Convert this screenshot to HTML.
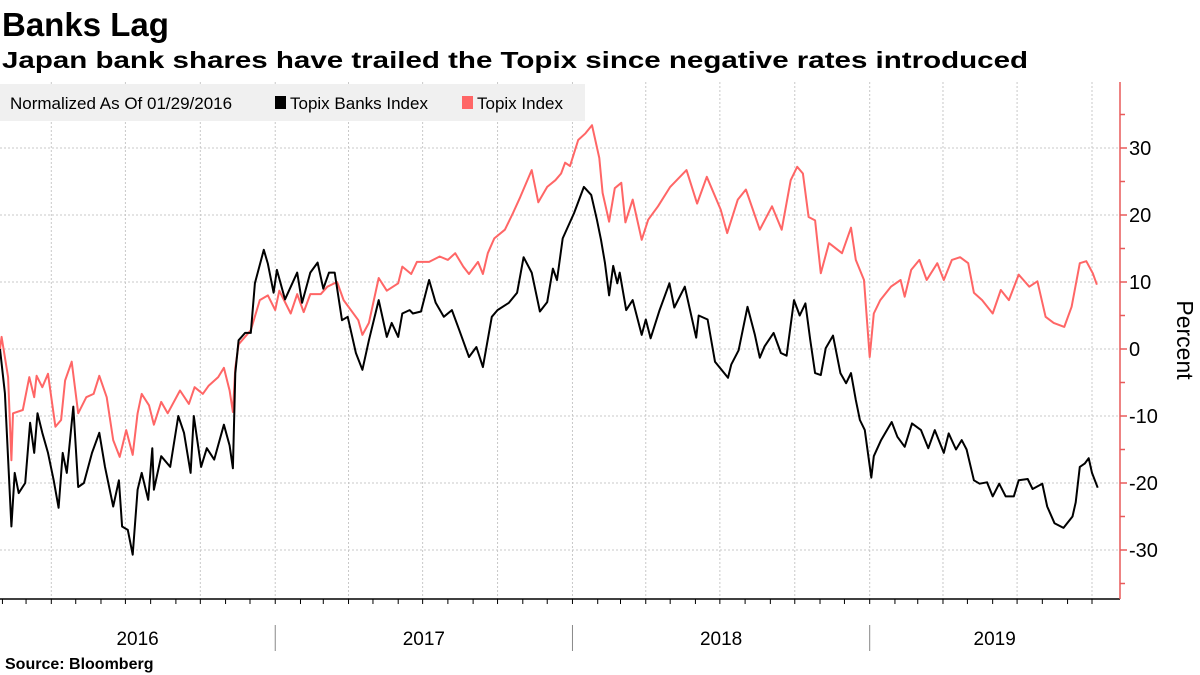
<!DOCTYPE html>
<html><head><meta charset="utf-8"><style>
html,body{margin:0;padding:0;background:#fff;}
svg{display:block;font-family:"Liberation Sans",sans-serif;}
</style></head><body>
<svg id="chart" width="1200" height="675" viewBox="0 0 1200 675">
<text x="2" y="36" font-size="33" font-weight="bold" fill="#000">Banks Lag</text>
<text x="2" y="68" font-size="23" font-weight="bold" fill="#000" textLength="1026" lengthAdjust="spacingAndGlyphs">Japan bank shares have trailed the Topix since negative rates introduced</text>
<g id="grid"></g>
<g>
<rect x="0" y="84" width="585" height="37" fill="#f0f0f0"/>
<text x="10" y="109" font-size="17" fill="#000">Normalized As Of 01/29/2016</text>
<rect x="275" y="96" width="11" height="13" fill="#000"/>
<text x="290" y="109" font-size="17" fill="#000">Topix Banks Index</text>
<rect x="462" y="96" width="11" height="13" fill="#ff6666"/>
<text x="477" y="109" font-size="17" fill="#000">Topix Index</text>
</g>
<g id="series"></g>
<g id="axes"></g>
<text transform="translate(1177,340) rotate(90)" text-anchor="middle" font-size="23" fill="#000">Percent</text>
<text x="5" y="669" font-size="16" font-weight="bold" fill="#000">Source: Bloomberg</text>
</svg>
<script>
// days since 2016-01-29
const banksDays=[0,6,14,18,23,31,37,42,46,52,59,66,72,77,82,90,96,103,113,122,129,139,146,150,157,163,169,174,182,187,189,198,209,219,226,234,238,247,254,263,275,282,286,289,293,301,308,313,324,329,336,340,350,365,371,381,390,397,404,411,420,427,437,445,453,465,475,481,489,494,503,507,517,527,535,545,555,564,576,585,593,604,611,625,635,643,653,663,672,679,684,691,705,717,726,733,738,743,748,753,758,761,769,777,788,793,799,810,822,828,841,855,858,869,878,894,898,907,918,927,933,939,950,959,966,975,982,989,995,1001,1008,1014,1023,1032,1039,1045,1051,1056,1062,1070,1073,1082,1095,1102,1111,1120,1131,1140,1148,1159,1165,1174,1181,1187,1196,1203,1212,1219,1227,1235,1245,1251,1262,1268,1280,1286,1295,1306,1317,1321,1326,1332,1337,1341,1348];
const banksValues=[0,-6.6,-26.5,-18.5,-21.5,-20,-11,-15.5,-9.6,-12.5,-15.5,-19.6,-23.7,-15.5,-18.5,-8.6,-20.6,-20,-15.5,-12.5,-17.6,-23.5,-19.6,-26.5,-27,-30.7,-21,-18.5,-22.5,-14.8,-21,-16,-17.6,-10,-12.5,-18.5,-10,-17.6,-14.8,-16.5,-11.3,-14.4,-17.8,-3.6,1.3,2.4,2.4,9.8,14.8,12.7,8.4,11.8,7.4,11.4,6.9,11.4,12.9,9,11.4,11.4,4.3,4.8,-0.6,-3.1,1.3,7.3,1.8,3.9,1.8,5.3,5.8,5.3,5.6,10.3,6.9,4.8,5.8,2.8,-1.2,0.3,-2.7,4.8,5.8,6.9,8.4,13.7,11.4,5.6,7,12,10.3,16.5,20.3,24.2,23,19.3,16.3,12.8,8,12.4,9.8,11.4,5.8,7.3,2.1,4.4,1.6,5.8,9.8,6.2,9.3,1.7,5,4.4,-1.9,-4.3,-2.3,-0.2,6.3,2.1,-1.3,0.4,2.4,-0.6,-1,7.3,5,6.8,1.4,-3.6,-3.9,0.1,2,-3.6,-5.1,-3.6,-7.6,-10.6,-12.1,-19.2,-16,-13.6,-10.9,-13.1,-14.6,-11.1,-12.1,-14.8,-12.1,-15.5,-12.6,-15,-13.6,-15,-19.6,-20.1,-19.9,-22,-20.1,-22,-22,-19.6,-19.4,-20.9,-20.1,-23.5,-26,-26.7,-25,-22.9,-17.6,-17.1,-16.3,-18.5,-20.7];
const topixDays=[0,2,10,14,16,28,36,42,45,52,59,68,75,80,88,96,106,115,122,131,139,147,155,163,169,174,183,189,198,206,221,232,239,249,256,268,275,282,286,289,293,308,319,329,338,343,357,365,373,381,394,402,414,422,440,445,453,465,475,489,494,505,512,527,540,550,559,569,576,587,593,599,607,620,630,639,653,661,672,682,689,694,700,710,719,727,736,740,748,755,763,768,777,788,796,808,823,843,856,868,885,893,906,916,933,948,960,971,979,986,993,1001,1008,1018,1034,1045,1051,1061,1068,1073,1081,1094,1106,1111,1119,1129,1138,1151,1159,1169,1179,1189,1196,1206,1219,1229,1239,1251,1264,1274,1284,1294,1307,1316,1326,1334,1342,1347];
const topixValues=[0,1.8,-4.2,-16.6,-9.6,-9.1,-4.2,-7.2,-4,-5.7,-3.7,-11.6,-10.6,-4.7,-1.9,-9.6,-7.2,-6.7,-4,-7.2,-13.6,-16.1,-12.1,-15.8,-9.6,-6.7,-8.4,-11.3,-7.9,-9.6,-6.2,-8.2,-5.7,-6.7,-5.5,-4.2,-2.8,-6.2,-9.4,-2.8,0.7,2.8,7.3,8,5.8,8.7,5.3,8.2,5.5,8.2,8.2,9.3,10,7.3,4.3,2.1,3.9,10.6,8.7,9.8,12.3,11.2,13,13,13.8,13.3,14.3,12.3,11.2,13,11.2,14.3,16.5,17.8,20.3,22.7,26.7,21.9,24.2,25.2,26.2,27.8,27.3,31.2,32.2,33.4,28.5,23.3,19,24,24.8,18.9,22.3,16.3,19.3,21.3,24.2,26.7,21.7,25.7,20.8,17.3,22.3,23.8,17.8,21.3,17.8,25.2,27.2,26.2,19.7,19.2,11.3,15.8,14.3,18.1,13.3,10.3,-1.2,5.3,7.3,9.3,10.3,7.8,11.8,13.3,10.3,12.8,10.3,13.3,13.7,12.8,8.4,7.3,5.3,8.8,7.3,11.1,9.3,10.1,4.8,3.9,3.3,6.3,12.8,13.1,11.3,9.6];
const yTicks=[30,20,10,0,-10,-20,-30];
const yTickLabels=["30","20","10","0","-10","-20","-30"];
const years=["2016","2017","2018","2019"];

const NS="http://www.w3.org/2000/svg";
const START=Date.UTC(2016,0,29);
const dayOf=(y,m,d)=>(Date.UTC(y,m,d)-START)/86400000;
const plotL=0,plotR=1120,plotT=82,plotB=599;
const xS=d=>plotL+d*(1092/1341);
const yS=v=>349-6.7*v;
function mk(tag,attrs,parent){const e=document.createElementNS(NS,tag);for(const k in attrs)e.setAttribute(k,attrs[k]);parent.appendChild(e);return e;}
const grid=document.getElementById('grid'),axes=document.getElementById('axes'),series=document.getElementById('series');
// horizontal grid
yTicks.forEach(v=>{const l=mk('line',{x1:plotL,x2:plotR,y1:yS(v),y2:yS(v),stroke:'#c8c8c8','stroke-dasharray':'2,2','stroke-width':1},grid);

});
// vertical quarterly grid + monthly ticks
for(let y=2016;y<=2019;y++){for(let m=0;m<12;m++){const d=dayOf(y,m,1);if(d<0||d>1360)continue;const x=xS(d);
 if(m%3===0&&d>0){const g=mk('line',{x1:x,x2:x,y1:plotT,y2:plotB,stroke:'#c8c8c8','stroke-dasharray':'2,2','stroke-width':1},grid);
 
 }
 const t=mk('line',{x1:x,x2:x,y1:plotB,y2:plotB+5,stroke:'#000','stroke-width':1},axes);
 
 }}
// series
function line(days,vals,color,w,name){const p=days.map((d,i)=>(i?'L':'M')+xS(d).toFixed(1)+','+yS(vals[i]).toFixed(1)).join('');
 const e=mk('path',{d:p,fill:'none',stroke:color,'stroke-width':w,'stroke-linejoin':'round'},series);
 
 }
line(topixDays,topixValues,'#ff6666',2,'topix-index-line');
line(banksDays,banksValues,'#000',2,'topix-banks-line');
// x axis
const xa=mk('line',{x1:plotL,x2:plotR,y1:plotB,y2:plotB,stroke:'#000','stroke-width':1.5},axes);


// right y axis
const ya=mk('line',{x1:plotR,x2:plotR,y1:plotT,y2:plotB,stroke:'#e85a5a','stroke-width':1.5},axes);


for(let v=-35;v<=35;v+=5){const y=yS(v);if(y<plotT||y>plotB)continue;
 const t=mk('line',{x1:plotR,x2:plotR+(v%10===0?7:5),y1:y,y2:y,stroke:'#e85a5a','stroke-width':1.5},axes);
 
 }
yTicks.forEach((v,i)=>{const t=mk('text',{x:plotR+9,y:yS(v)+7,'font-size':20,fill:'#000'},axes);t.textContent=yTickLabels[i];
 
 });
// year labels and separators
years.forEach((yr,i)=>{const y=+yr;const a=Math.max(0,dayOf(y,0,1)),b=Math.min(dayOf(y+1,0,1),1375);
 const t=mk('text',{x:(xS(a)+xS(b))/2,y:645,'font-size':19,'text-anchor':'middle',fill:'#000'},axes);t.textContent=yr;
 
 
 if(i>0){const s=mk('line',{x1:xS(a),x2:xS(a),y1:625,y2:651,stroke:'#888','stroke-width':1},axes);
 
 }});
</script>
</body></html>
